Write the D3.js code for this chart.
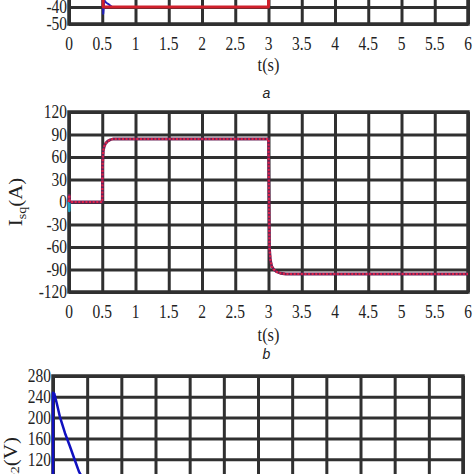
<!DOCTYPE html>
<html><head><meta charset="utf-8">
<script src="https://cdn.jsdelivr.net/npm/d3@7/dist/d3.min.js"></script>
<style>html,body{margin:0;padding:0;background:#fff;overflow:hidden}svg{display:block}</style>
</head><body><svg id="c" width="474" height="474"></svg>
<script>
// ---- data ----
const tTicks = [0,0.5,1,1.5,2,2.5,3,3.5,4,4.5,5,5.5,6];
const tTickLabels = ["0","0.5","1","1.5","2","2.5","3","3.5","4","4.5","5","5.5","6"];

// panel a
const aYTicks = [-50,-40,-30,-20,-10,0,10,20,30,40,50];
const aRedT = [0,0.5,0.515,3.0,3.01,6];
const aRedV = [0,0,-40,-40,40,40];
const aBlueT = [0,0.5,0.515,0.53,0.56,0.6,0.65,3.0,3.01,6];
const aBlueV = [0,0,-44,-36,-37.5,-38.5,-40,-40,40,40];

// panel b
const bYTicks = [-120,-90,-60,-30,0,30,60,90,120];
const bT = [0,0.004,0.01,0.02,0.5,0.505,0.515,0.53,0.55,0.58,0.62,0.66,0.72,3.0,3.005,3.015,3.03,3.05,3.08,3.12,3.18,3.26,6];
const bV = [0,9,2,0,0,50,68,74,78,81,83,84,84,84,30,-62,-78,-86,-90,-93,-95,-96,-96];
const bCyanT = [0,0.004,0.01,0.02];
const bCyanV = [0,-12,-3,0];

// panel c
const cYTicks = [0,40,80,120,160,200,240,280];
const cT = [0,0.0,0.02,0.054,0.1,0.176,0.25,0.32,0.38,0.45,0.55];
const cV = [0,248,246,228,202,170,144,118,96,80,62];

// ---- drawing ----
const W = 474, H = 474;
const svg = d3.select("#c");
const gridColor = "#303030";
const serif = "'Liberation Serif','Times New Roman',serif";

function panel(o){
  const x = d3.scaleLinear().domain([0,6]).range(o.xr);
  const y = d3.scaleLinear().domain(o.yd).range(o.yr);
  const g = svg.append("g");
  const gx = g.append("g").attr("transform",`translate(0,${o.yr[0]})`)
    .call(d3.axisBottom(x).tickValues(tTicks).tickSize(o.yr[1]-o.yr[0]).tickFormat(""));
  gx.select(".domain").remove();
  gx.selectAll("line").attr("stroke",gridColor).attr("stroke-width",3);
  const gy = g.append("g").attr("transform",`translate(${o.xr[0]},0)`)
    .call(d3.axisLeft(y).tickValues(o.yTicks).tickSize(-(o.xr[1]-o.xr[0])).tickFormat(""));
  gy.select(".domain").remove();
  gy.selectAll("line").attr("stroke",gridColor).attr("stroke-width",3);
  g.append("rect").attr("x",o.xr[0]).attr("y",o.yr[1]).attr("width",o.xr[1]-o.xr[0]).attr("height",o.yr[0]-o.yr[1])
    .attr("fill","none").attr("stroke",gridColor).attr("stroke-width",3.5);
  // y tick labels (only those that fall on the page)
  const vis = o.yTicks.filter(d=>y(d)>=0 && y(d)<=H);
  g.selectAll("text.yt").data(vis).join("text").attr("class","yt")
    .attr("transform",d=>`translate(${o.xr[0]-2},${y(d)}) scale(0.86,1)`)
    .attr("dy","0.35em").attr("text-anchor","end")
    .attr("font-family",serif).attr("font-size",18).attr("fill","#222").text(d=>d);
  if(o.xlab!==undefined){
    g.selectAll("text.xt").data(tTicks).join("text").attr("class","xt")
      .attr("transform",d=>`translate(${x(d)},${o.yr[0]+25.5}) scale(0.86,1)`)
      .attr("text-anchor","middle").attr("font-family",serif).attr("font-size",18).attr("fill","#222")
      .text((d,i)=>tTickLabels[i]);
    g.append("text").attr("transform",`translate(${(o.xr[0]+o.xr[1])/2},${o.xlab}) scale(0.86,1)`)
      .attr("text-anchor","middle").attr("font-family",serif).attr("font-size",19).attr("fill","#222").text("t(s)");
    g.append("text").attr("x",(o.xr[0]+o.xr[1])/2-2).attr("y",o.plab).attr("text-anchor","middle")
      .attr("font-family","'Liberation Sans',Arial,sans-serif").attr("font-style","italic").attr("font-size",14)
      .attr("fill","#222").text(o.pname);
  }
  return {x,y,g};
}

function line(p,T,V,color,w,dash){
  const data = T.map((t,i)=>[t,V[i]]);
  const l = p.g.append("path").datum(data)
    .attr("d",d3.line().x(d=>p.x(d[0])).y(d=>p.y(d[1])))
    .attr("fill","none").attr("stroke",color).attr("stroke-width",w).attr("stroke-linejoin","round");
  if(dash) l.attr("stroke-dasharray",dash);
}

// Panel a
const pa = panel({xr:[69,468], yd:[-50,50], yr:[24,-146], yTicks:aYTicks, xlab:71, plab:98, pname:"a"});
line(pa,aBlueT,aBlueV,"#2020c0",2);
line(pa,aRedT,aRedV,"#d0202c",3);

// Panel b
const pb = panel({xr:[69,468], yd:[-120,120], yr:[292,112], yTicks:bYTicks, xlab:341, plab:359, pname:"b"});
line(pb,bCyanT,bCyanV,"#20a0c0",2.5);
line(pb,bT,bV,"#6a2458",2.8);
line(pb,bT,bV,"#e02048",2.2,"2,1.6");
const lb = svg.append("text").attr("transform","translate(22,202) rotate(-90) scale(1,0.86)")
  .attr("text-anchor","middle").attr("font-family",serif).attr("font-size",21).attr("fill","#222");
lb.append("tspan").text("I");
lb.append("tspan").attr("font-size",14).attr("dy",5).text("sq");
lb.append("tspan").attr("dy",-5).text("(A)");

// Panel c
const pc = panel({xr:[53,463], yd:[0,280], yr:[521.6,376], yTicks:cYTicks});
line(pc,cT,cV,"#1010c0",2.5);
const lc = svg.append("text").attr("transform","translate(17,437) rotate(-90) scale(1,0.86)")
  .attr("text-anchor","end").attr("font-family",serif).attr("font-size",21).attr("fill","#222");
lc.append("tspan").text("U");
lc.append("tspan").attr("font-size",14).attr("dy",2).text("dc2");
lc.append("tspan").attr("dy",-2).text("(V)");
</script></body></html>
